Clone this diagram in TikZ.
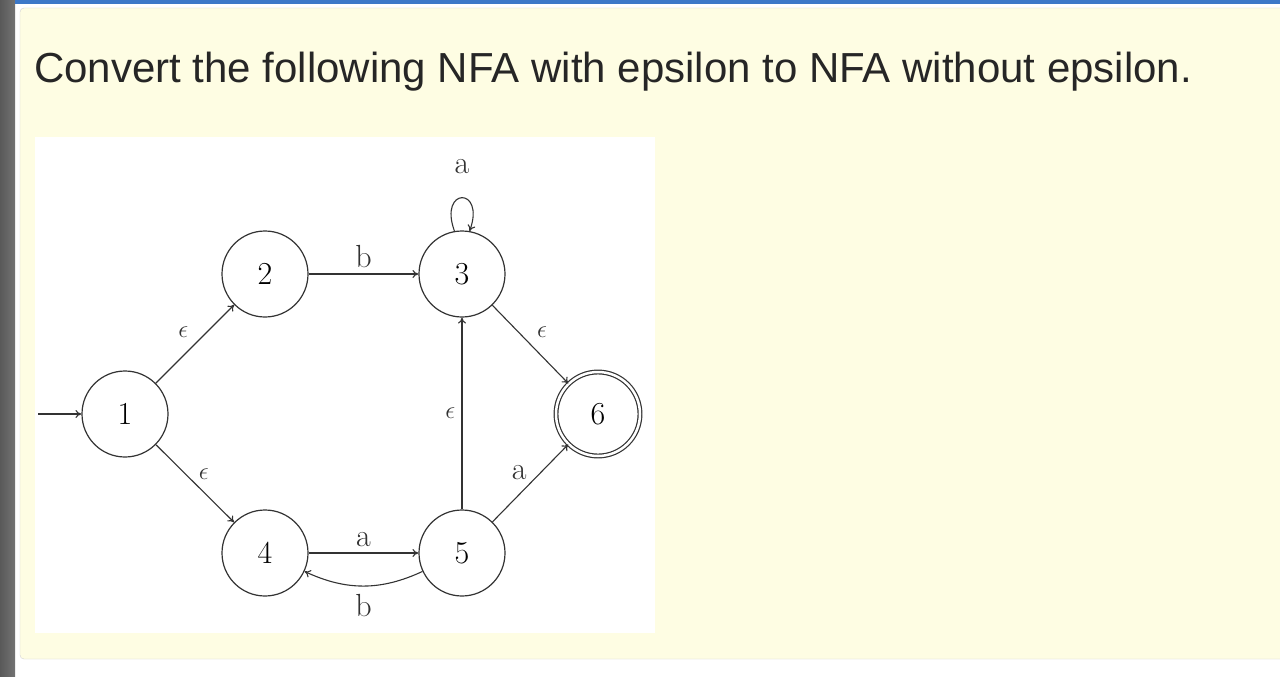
\documentclass[tikz,border=0pt]{standalone}
\usepackage{fontspec}
\newfontfamily\titlefont{Liberation Sans}
\usetikzlibrary{arrows.meta}
\definecolor{cardbg}{HTML}{FEFDE3}
\definecolor{stroke}{HTML}{333333}
\definecolor{topbar}{HTML}{3C78C8}
\begin{document}
\begin{tikzpicture}[x=1pt,y=-1pt,
  st/.style={circle,draw=stroke,line width=1.2pt,minimum size=86pt,inner sep=0pt,font=\fontsize{32}{32}\selectfont},
  acc/.style={st,double,double distance=2.5pt,minimum size=84pt},
  tr/.style={draw=stroke,line width=1.1pt,-{To[length=6pt,width=8pt]}},
  lb/.style={font=\fontsize{32}{32}\selectfont,text=stroke}]
\useasboundingbox (0,0) rectangle (1280,677);
\fill[white] (0,0) rectangle (1280,677);
\shade[left color=gray!70!black,right color=gray!90!black] (0,0) rectangle (15,677);
\fill[topbar] (15,0) rectangle (1280,4);
\draw[fill=cardbg,draw=gray!35,rounded corners=4pt] (20,8) rectangle (1290,659);
\node[anchor=base west,inner sep=0pt,font=\titlefont\fontsize{42}{42}\selectfont,text=black!85] (title) at (34,83) {Convert the following NFA with epsilon to NFA without epsilon.};
\fill[white] (35,137) rectangle (655,633);
\node[st] (n1) at (125,414) {1};
\node[st] (n2) at (265,274) {2};
\node[st] (n3) at (462,274) {3};
\node[st] (n4) at (265,553) {4};
\node[st] (n5) at (462,553) {5};
\node[acc] (n6) at (598,414) {6};
\coordinate (init) at (38,414);
\draw[tr] (init) -- (n1);
\draw[tr] (n1) -- node[lb,above left=3pt] {$\epsilon$} (n2);
\draw[tr] (n1) -- node[lb,above right=0pt] {$\epsilon$} (n4);
\draw[tr] (n2) -- node[lb,above=2pt] {b} (n3);
\draw[tr] (n4) -- node[lb,above=2pt] {a} (n5);
\draw[tr] (n5) to[bend left=25] node[lb,below=4pt] {b} (n4);
\draw[tr] (n5) -- node[lb,left=3pt] {$\epsilon$} (n3);
\draw[tr] (n3) -- node[lb,above right=3pt] {$\epsilon$} (n6);
\draw[tr] (n5) -- node[lb,above left=0pt] {a} (n6);
\draw[tr] (n3.100) to[out=110,in=70,looseness=8] node[lb,above=20pt] {a} (n3.80);
\end{tikzpicture}
\end{document}
